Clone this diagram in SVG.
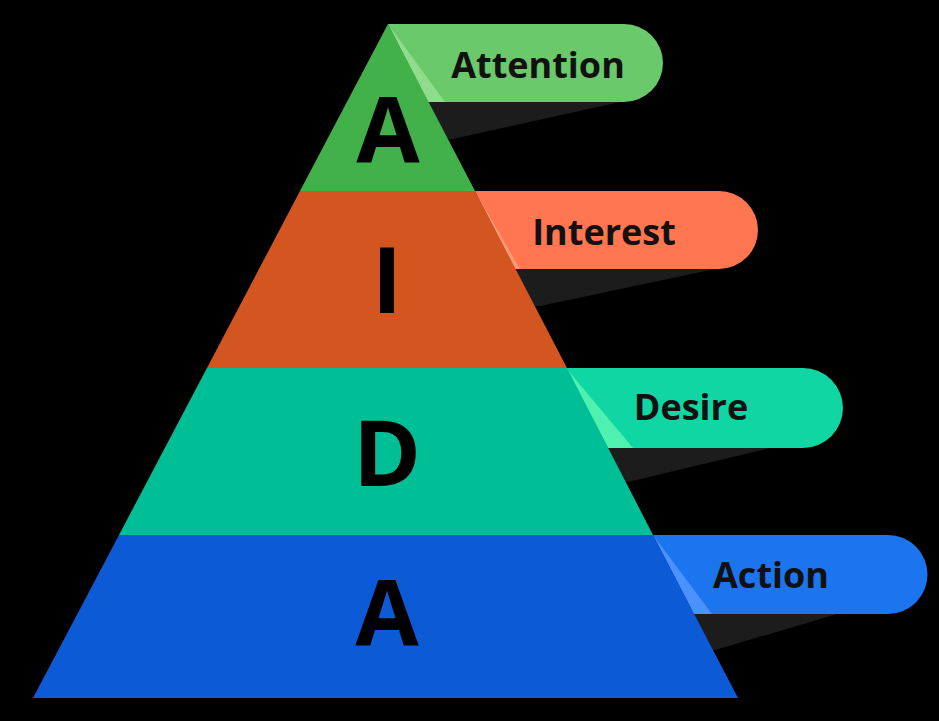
<svg xmlns="http://www.w3.org/2000/svg" width="939" height="721" viewBox="0 0 939 721">
<style>
.big{font-family:"Open Sans","DejaVu Sans",sans-serif;font-weight:bold;font-size:92px;text-anchor:middle;fill:#000}
.lbl{font-family:"Open Sans","DejaVu Sans",sans-serif;font-weight:bold;font-size:36px;text-anchor:middle;fill:#111}
.sh{fill:#1c1c1c}
</style>
<rect width="939" height="721" fill="#000"/>
<g id="attention">
<path d="M388,24 H624 A39,39 0 0 1 624,102 H428 Z" fill="#6ac96a"/>
<polygon class="sh" points="428,102 620,102 453,139 448,139"/>
<polygon points="388,24 445,102 428,102" fill="#8fdc8c"/>
<polygon points="388,24 475,191 300,191" fill="#43b14a"/>
<text class="big" x="388" y="163">A</text>
<text class="lbl" x="538" y="78">Attention</text>
</g>
<g id="interest">
<path d="M475,191 H719 A39,39 0 0 1 719,269 H515 Z" fill="#ff7650"/>
<polygon class="sh" points="515,269 715,269 540,306 534,306"/>
<polygon points="475,191 520,269 515,269" fill="#ff9a78"/>
<polygon points="300,191 475,191 567,368 207,368" fill="#d35520"/>
<text class="big" x="387" y="313">I</text>
<text class="lbl" x="604" y="245">Interest</text>
</g>
<g id="desire">
<path d="M566,368 H803 A40,40 0 0 1 803,448 H608 Z" fill="#0fd6a3"/>
<polygon class="sh" points="608,448 770,448 628,482 624,482"/>
<polygon points="566,368 633,448 608,448" fill="#4ff0b0"/>
<polygon points="207,368 567,368 653,535 119,535" fill="#00bf96"/>
<text class="big" x="387" y="486">D</text>
<text class="lbl" x="691" y="420">Desire</text>
</g>
<g id="action">
<path d="M653,535 H888 A39.5,39.5 0 0 1 888,614 H694 Z" fill="#1c74ef"/>
<polygon class="sh" points="694,614 837,614 715,650 712,650"/>
<polygon points="653,535 712,614 694,614" fill="#4a92ff"/>
<polygon points="119,535 653,535 738,698 33,698" fill="#0d5ad6"/>
<text class="big" x="387" y="646">A</text>
<text class="lbl" x="771" y="588">Action</text>
</g>
<g id="connectors"/>
</svg>
